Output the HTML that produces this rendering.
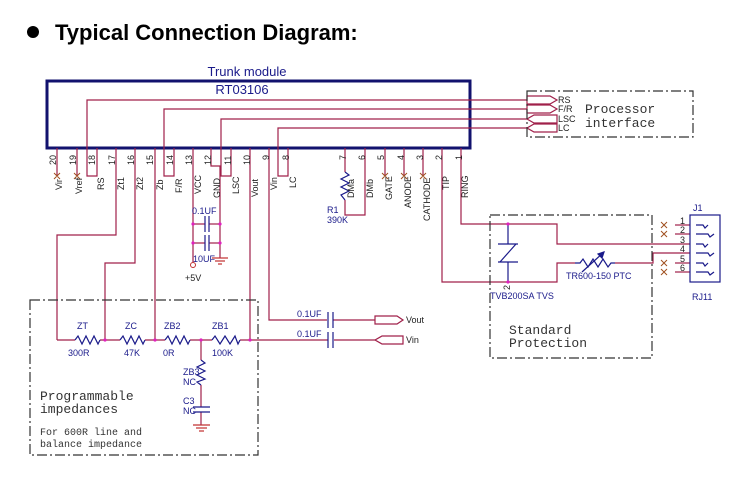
<!DOCTYPE html>
<html><head><meta charset="utf-8"><style>
html,body{margin:0;padding:0;background:#fff;width:742px;height:485px;overflow:hidden}
svg{display:block}
.t{font-family:"Liberation Sans",sans-serif;font-size:9px;fill:#1a1a8a}
.k{font-family:"Liberation Sans",sans-serif;font-size:9px;fill:#222}
.m{font-family:"Liberation Mono",monospace;fill:#333}
</style></head><body>
<svg width="742" height="485" viewBox="0 0 742 485" xmlns="http://www.w3.org/2000/svg">
<circle cx="33" cy="32" r="6" fill="#000"/>
<text x="55" y="40" font-family="Liberation Sans,sans-serif" font-weight="bold" font-size="22" fill="#000">Typical Connection Diagram:</text>

<text x="247" y="76" text-anchor="middle" font-family="Liberation Sans,sans-serif" font-size="13" fill="#1a1a8a">Trunk module</text>
<rect x="47" y="81" width="423" height="67" fill="none" stroke="#12126e" stroke-width="3"/>
<text x="242" y="94" text-anchor="middle" font-family="Liberation Sans,sans-serif" font-size="13" fill="#1a1a8a">RT03106</text>

<g stroke="#a0204a" stroke-width="1.2" fill="none">
<!-- internal bus -->
<polyline points="87,165 87,100 527,100"/>
<polyline points="164,165 164,109 527,109"/>
<polyline points="221,165 221,119 527,119"/>
<polyline points="278,165 278,128 527,128"/>
<!-- pin stubs -->
<line x1="57" y1="148" x2="57" y2="176"/>
<line x1="77" y1="148" x2="77" y2="176"/>
<polyline points="87,165 87,176 97,176 97,148"/>
<polyline points="116,148 116,235 57,235 57,340"/>
<polyline points="135,148 135,263 105,263 105,340"/>
<line x1="155" y1="148" x2="155" y2="340"/>
<polyline points="164,165 164,176 174,176 174,148"/>
<polyline points="193,148 193,262"/>
<polyline points="211,148 211,166 220,166 220,258"/>
<polyline points="221,165 221,176 231,176 231,148"/>
<line x1="250" y1="148" x2="250" y2="340"/>
<polyline points="269,148 269,320 327,320"/>
<polyline points="278,165 278,176 288,176 288,148"/>
<line x1="345" y1="148" x2="345" y2="172"/>
<polyline points="365,148 365,215 345,215 345,200"/>
<line x1="385" y1="148" x2="385" y2="176"/>
<line x1="404" y1="148" x2="404" y2="176"/>
<line x1="423" y1="148" x2="423" y2="176"/>
<polyline points="442,148 442,282 557,282 557,263 575,263"/>
<polyline points="461,148 461,224 557,224 557,244 690,244"/>
<polyline points="615,263 653,263 653,253 690,253"/>
<line x1="675" y1="225" x2="690" y2="225"/>
<line x1="675" y1="234" x2="690" y2="234"/>
<line x1="675" y1="263" x2="690" y2="263"/>
<line x1="675" y1="272" x2="690" y2="272"/>
<!-- caps wires -->
<line x1="193" y1="224" x2="205" y2="224"/><line x1="209" y1="224" x2="220" y2="224"/>
<line x1="193" y1="243" x2="205" y2="243"/><line x1="209" y1="243" x2="220" y2="243"/>
<!-- resistor row -->
<line x1="57" y1="340" x2="75" y2="340"/><line x1="100" y1="340" x2="120" y2="340"/>
<line x1="145" y1="340" x2="165" y2="340"/><line x1="190" y1="340" x2="212" y2="340"/>
<line x1="240" y1="340" x2="328" y2="340"/>
<line x1="334" y1="340" x2="375" y2="340"/>
<line x1="333" y1="320" x2="375" y2="320"/>
<line x1="201" y1="340" x2="201" y2="360"/>
<line x1="201" y1="385" x2="201" y2="407"/>
<line x1="201" y1="412" x2="201" y2="425"/>
<!-- processor connectors -->
<polygon points="527,96 550,96 557,100 550,104 527,104"/>
<polygon points="527,105 550,105 557,109 550,113 527,113"/>
<polygon points="534,115 557,115 557,123 534,123 527,119"/>
<polygon points="534,124 557,124 557,132 534,132 527,128"/>
<polygon points="375,316 397,316 403,320 397,324 375,324"/>
<polygon points="382,336 403,336 403,344 382,344 375,340"/>
</g>

<!-- TVS -->
<g stroke="#1a1a8a" stroke-width="1.2" fill="none">
<line x1="508" y1="224" x2="508" y2="244"/><line x1="508" y1="262" x2="508" y2="282"/>
<line x1="498" y1="244" x2="518" y2="244"/><line x1="498" y1="262" x2="518" y2="262"/>
<polyline points="500,262 516,244"/>
<polyline points="575,263 580,263 583,259 588,267 593,259 598,267 603,259 608,267 611,263 615,263"/>
<line x1="582" y1="272" x2="604" y2="252"/>
<polygon points="604,252 598,254 602,258" fill="#1a1a8a"/>
<!-- resistors -->
<polyline points="75,340 78,336 82,344 86,336 90,344 94,336 98,344 100,340"/>
<polyline points="120,340 123,336 127,344 131,336 135,344 139,336 143,344 145,340"/>
<polyline points="165,340 168,336 172,344 176,336 180,344 184,336 188,344 190,340"/>
<polyline points="212,340 215,336 220,344 225,336 230,344 235,336 238,344 240,340"/>
<polyline points="201,360 205,363 197,367 205,371 197,375 205,379 197,382 201,385"/>
<polyline points="345,172 349,175 341,179 349,183 341,187 349,191 341,195 345,200"/>
<!-- caps -->
<line x1="205" y1="216" x2="205" y2="232"/><line x1="209" y1="216" x2="209" y2="232"/>
<line x1="205" y1="235" x2="205" y2="251"/><line x1="209" y1="235" x2="209" y2="251"/>
<line x1="328" y1="312" x2="328" y2="328"/><line x1="333" y1="312" x2="333" y2="328"/>
<line x1="328" y1="332" x2="328" y2="348"/><line x1="333" y1="332" x2="333" y2="348"/>
<line x1="193" y1="407" x2="210" y2="407"/><line x1="193" y1="412" x2="210" y2="412"/>
<!-- RJ11 -->
<rect x="690" y="215" width="30" height="67"/>
<polyline points="696,225 703,225 705,228 708,225"/>
<polyline points="696,234 708,234 710,237 714,234"/>
<polyline points="696,244 703,244 705,247 708,244"/>
<polyline points="696,253 708,253 710,256 714,253"/>
<polyline points="696,263 703,263 705,266 708,263"/>
<polyline points="696,272 708,272 710,275 714,272"/>
</g>
<!-- grounds -->
<g stroke="#c03030" stroke-width="1.2">
<line x1="212" y1="258" x2="228" y2="258"/><line x1="215" y1="261" x2="225" y2="261"/><line x1="218" y1="264" x2="222" y2="264"/>
<line x1="193" y1="425" x2="210" y2="425"/><line x1="196" y1="428" x2="207" y2="428"/><line x1="199" y1="431" x2="204" y2="431"/>
</g>
<circle cx="193" cy="265" r="2.5" fill="#fff" stroke="#c03030"/>
<g fill="#e020c0">
<circle cx="193" cy="224" r="1.6"/><circle cx="220" cy="224" r="1.6"/><circle cx="193" cy="243" r="1.6"/><circle cx="220" cy="243" r="1.6"/>
<circle cx="105" cy="340" r="1.6"/><circle cx="155" cy="340" r="1.6"/><circle cx="201" cy="340" r="1.6"/><circle cx="250" cy="340" r="1.6"/>
<circle cx="508" cy="224" r="1.6"/><circle cx="508" cy="282" r="1.6"/>
</g>
<!-- X marks -->
<g stroke="#a05020" stroke-width="1">
<path d="M54,173l6,6M60,173l-6,6M74,173l6,6M80,173l-6,6M382,173l6,6M388,173l-6,6M401,173l6,6M407,173l-6,6M420,173l6,6M426,173l-6,6"/>
<path d="M661,222l6,6M667,222l-6,6M661,231l6,6M667,231l-6,6M661,260l6,6M667,260l-6,6M661,269l6,6M667,269l-6,6"/>
</g>

<!-- pin numbers & names (rotated) -->
<g class="k">
<text transform="translate(56,165) rotate(-90)">20</text>
<text transform="translate(76,165) rotate(-90)">19</text>
<text transform="translate(95,165) rotate(-90)">18</text>
<text transform="translate(115,165) rotate(-90)">17</text>
<text transform="translate(134,165) rotate(-90)">16</text>
<text transform="translate(153,165) rotate(-90)">15</text>
<text transform="translate(173,165) rotate(-90)">14</text>
<text transform="translate(192,165) rotate(-90)">13</text>
<text transform="translate(211,165) rotate(-90)">12</text>
<text transform="translate(231,165) rotate(-90)">11</text>
<text transform="translate(250,165) rotate(-90)">10</text>
<text transform="translate(269,160) rotate(-90)">9</text>
<text transform="translate(289,160) rotate(-90)">8</text>
<text transform="translate(346,160) rotate(-90)">7</text>
<text transform="translate(365,160) rotate(-90)">6</text>
<text transform="translate(384,160) rotate(-90)">5</text>
<text transform="translate(404,160) rotate(-90)">4</text>
<text transform="translate(423,160) rotate(-90)">3</text>
<text transform="translate(442,160) rotate(-90)">2</text>
<text transform="translate(462,160) rotate(-90)">1</text>
<text transform="translate(62,190) rotate(-90)">Vir</text>
<text transform="translate(82,194) rotate(-90)">Vref</text>
<text transform="translate(104,190) rotate(-90)">RS</text>
<text transform="translate(124,190) rotate(-90)">Zt1</text>
<text transform="translate(143,190) rotate(-90)">Zt2</text>
<text transform="translate(163,190) rotate(-90)">Zb</text>
<text transform="translate(182,193) rotate(-90)">F/R</text>
<text transform="translate(201,194) rotate(-90)">VCC</text>
<text transform="translate(220,198) rotate(-90)">GND</text>
<text transform="translate(239,194) rotate(-90)">LSC</text>
<text transform="translate(258,197) rotate(-90)">Vout</text>
<text transform="translate(277,190) rotate(-90)">Vin</text>
<text transform="translate(296,188) rotate(-90)">LC</text>
<text transform="translate(354,198) rotate(-90)">DMa</text>
<text transform="translate(373,198) rotate(-90)">DMb</text>
<text transform="translate(392,200) rotate(-90)">GATE</text>
<text transform="translate(411,208) rotate(-90)">ANODE</text>
<text transform="translate(430,221) rotate(-90)">CATHODE</text>
<text transform="translate(449,190) rotate(-90)">TIP</text>
<text transform="translate(468,198) rotate(-90)">RING</text>
</g>

<g class="t">
<text x="327" y="213">R1</text><text x="327" y="223">390K</text>
<text x="192" y="214">0.1UF</text><text x="193" y="262">10UF</text>
<text x="185" y="281" fill="#222" style="fill:#222">+5V</text>
<text x="77" y="329">ZT</text><text x="125" y="329">ZC</text><text x="164" y="329">ZB2</text><text x="212" y="329">ZB1</text>
<text x="68" y="356">300R</text><text x="124" y="356">47K</text><text x="163" y="356">0R</text><text x="212" y="356">100K</text>
<text x="183" y="375">ZB3</text><text x="183" y="385">NC</text>
<text x="183" y="404">C3</text><text x="183" y="414">NC</text>
<text x="297" y="317">0.1UF</text><text x="297" y="337">0.1UF</text>
<text x="490" y="299">TVB200SA TVS</text>
<text x="566" y="279">TR600-150 PTC</text>
<text x="693" y="211">J1</text><text x="692" y="300">RJ11</text>
</g>
<g class="k">
<text x="406" y="323">Vout</text><text x="406" y="343">Vin</text>
<text x="558" y="103">RS</text><text x="558" y="112">F/R</text><text x="558" y="122">LSC</text><text x="558" y="131">LC</text>
<text x="680" y="224">1</text><text x="680" y="233">2</text><text x="680" y="243">3</text><text x="680" y="252">4</text><text x="680" y="262">5</text><text x="680" y="271">6</text>
<text transform="translate(510,290) rotate(-90)">2</text>
</g>

<!-- dashed boxes -->
<g stroke="#333" stroke-width="1.2" fill="none" stroke-dasharray="10,3,2,3">
<rect x="527" y="91" width="166" height="46"/>
<rect x="30" y="300" width="228" height="155"/>
<rect x="490" y="215" width="162" height="143"/>
</g>
<text class="m" x="585" y="113" font-size="13">Processor</text>
<text class="m" x="585" y="127" font-size="13">interface</text>
<text class="m" x="40" y="400" font-size="13">Programmable</text>
<text class="m" x="40" y="413" font-size="13">impedances</text>
<text class="m" x="40" y="435" font-size="10">For 600R line and</text>
<text class="m" x="40" y="447" font-size="10">balance impedance</text>
<text class="m" x="509" y="334" font-size="13">Standard</text>
<text class="m" x="509" y="347" font-size="13">Protection</text>
</svg>
</body></html>
